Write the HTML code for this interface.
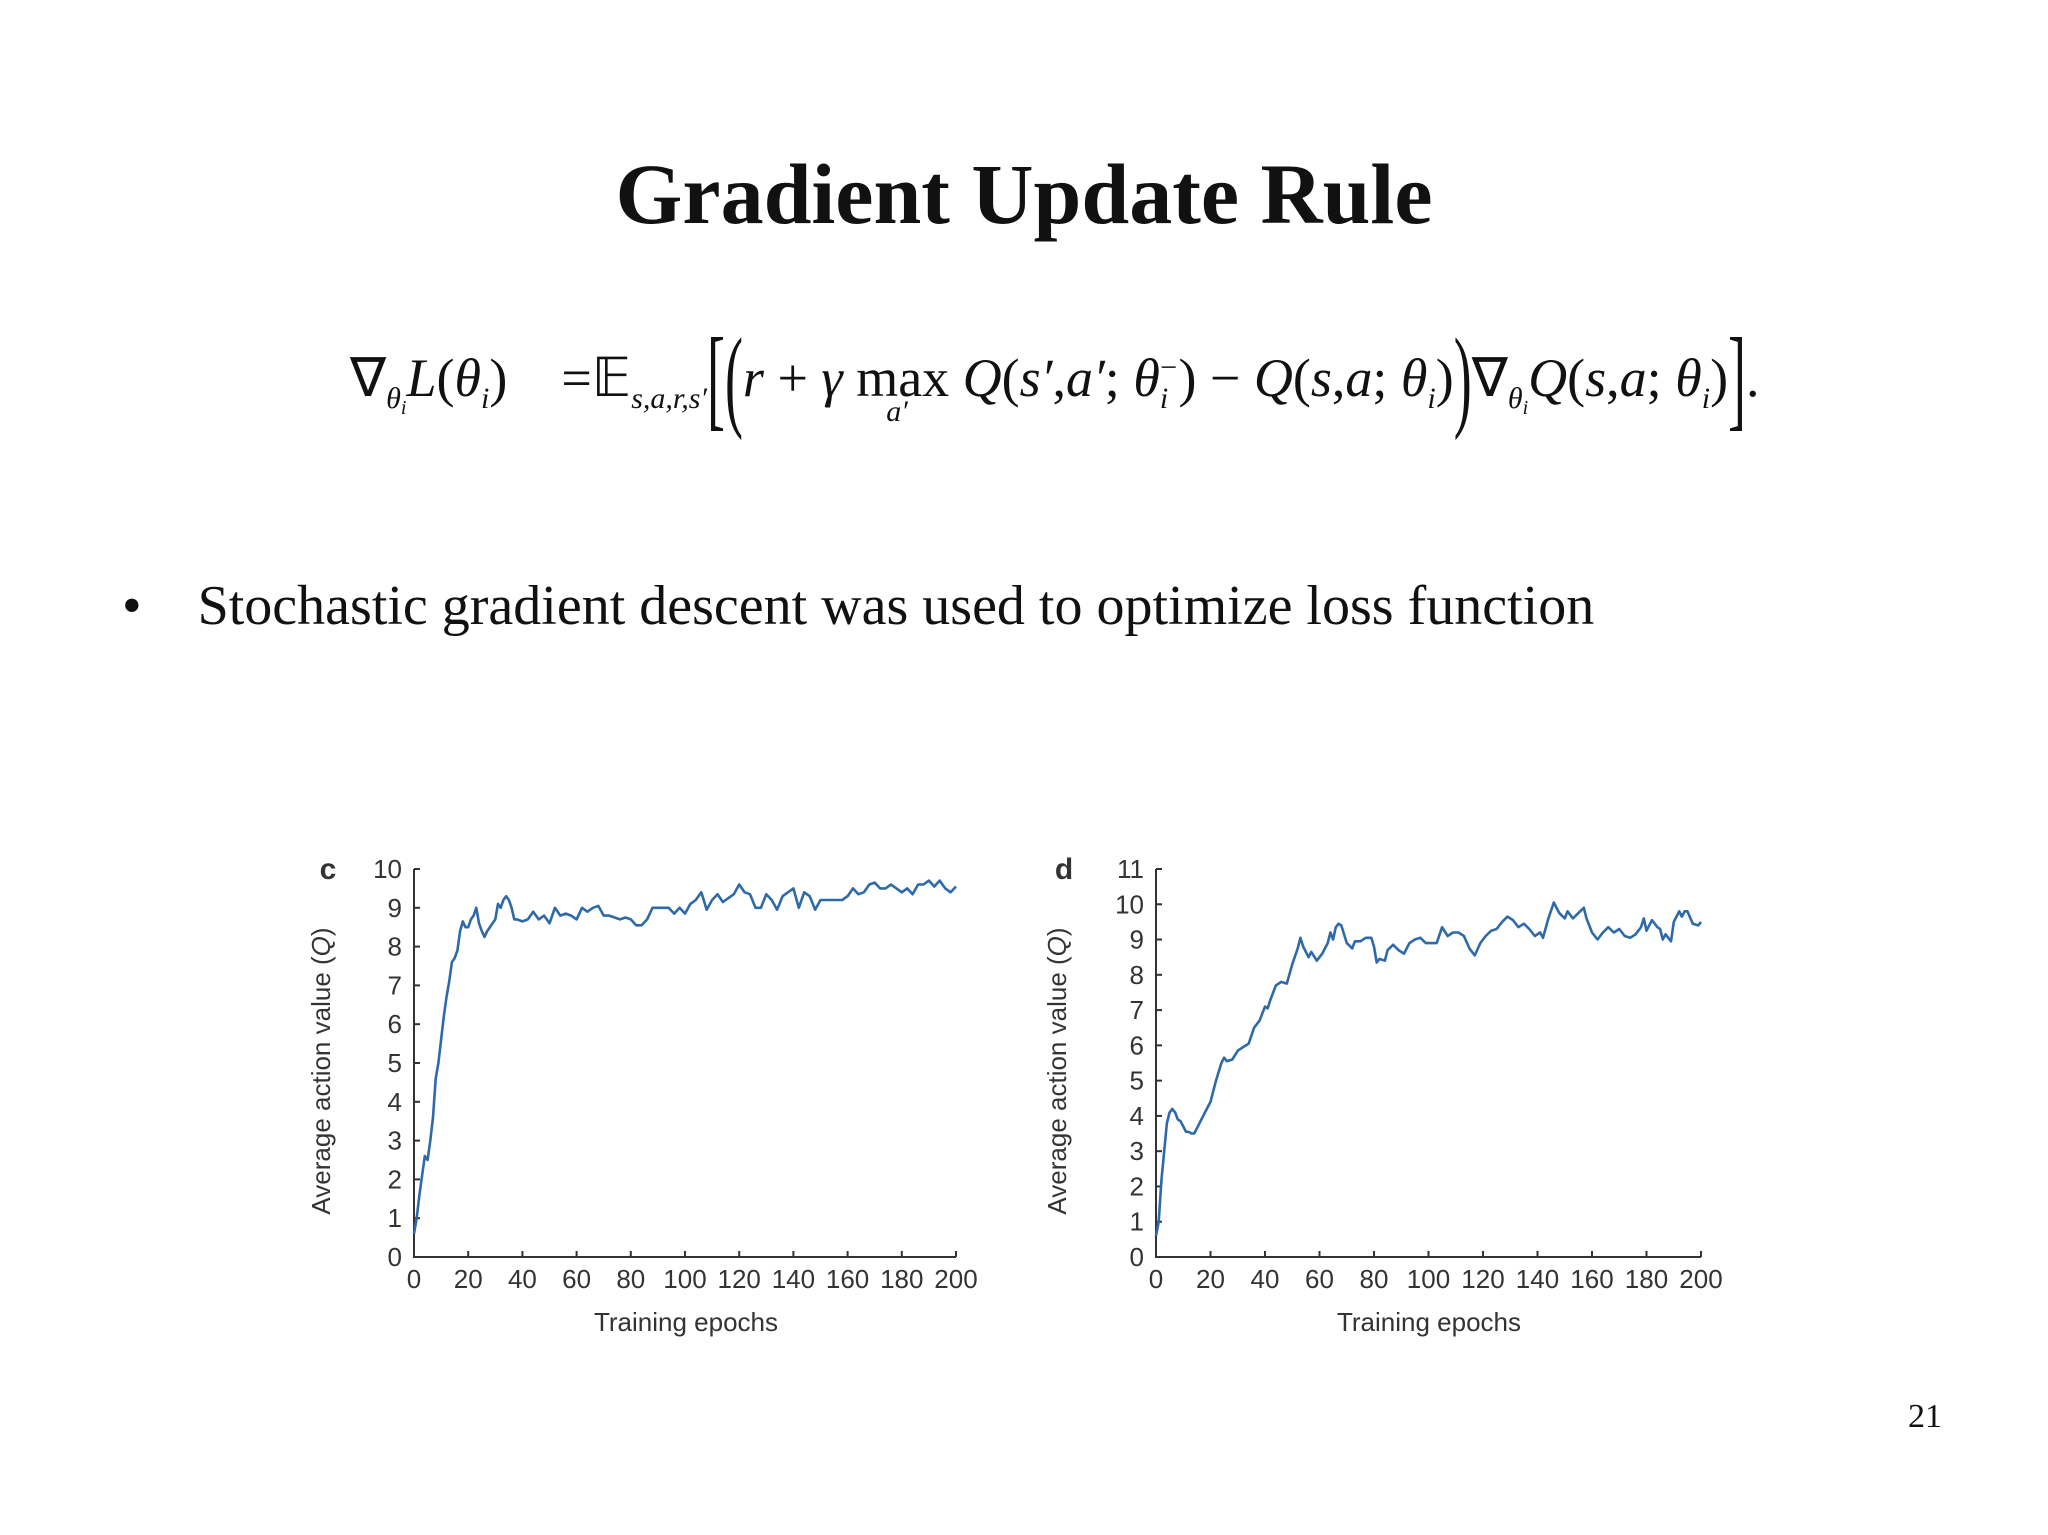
<!DOCTYPE html>
<html><head><meta charset="utf-8">
<style>
html,body{margin:0;padding:0;background:#fff;}
body{width:2048px;height:1535px;position:relative;overflow:hidden;font-family:"Liberation Serif",serif;color:#111;}
.abs{position:absolute;}
#title{left:0;width:2048px;top:144px;text-align:center;font-weight:bold;font-size:86px;}
#eq{left:350px;top:346px;font-size:54px;font-family:"Liberation Serif",serif;white-space:nowrap;color:#111;}
#eq i{font-style:italic}
#eq sub{font-size:30px;vertical-align:-12px;font-style:italic}
#eq sup{font-size:30px;font-style:italic}
.big{display:inline-block;transform:scaleY(2.1);font-weight:normal;}
#bullet{left:122px;top:574px;font-size:56px;}
#pnum{left:1908px;top:1398px;font-size:34px;}
svg text{font-family:"Liberation Sans",sans-serif;fill:#333;}
</style></head>
<body>
<div id="title" class="abs">Gradient Update Rule</div>
<div id="eq" class="abs">∇<sub>θ<sub style="font-size:20px;vertical-align:-6px">i</sub></sub><i>L</i>(<i>θ<sub>i</sub></i>) &nbsp;&nbsp; =𝔼<sub>s,a,r,s′</sub><span class="big">[</span><span class="big">(</span><i>r</i> + <i>γ</i> <span style="display:inline-block;position:relative">max<span style="position:absolute;left:30px;top:48px;font-size:30px;font-style:italic">a′</span></span> <i>Q</i>(<i>s′</i>,<i>a′</i>; <i>θ<sub>i</sub></i><sup style="margin-left:-10px">−</sup>) − <i>Q</i>(<i>s</i>,<i>a</i>; <i>θ<sub>i</sub></i>)<span class="big">)</span>∇<sub>θ<sub style="font-size:20px;vertical-align:-6px">i</sub></sub><i>Q</i>(<i>s</i>,<i>a</i>; <i>θ<sub>i</sub></i>)<span class="big">]</span>.</div>
<div id="bullet" class="abs">•&nbsp;&nbsp;&nbsp;&nbsp;Stochastic gradient descent was used to optimize loss function</div>
<div id="pnum" class="abs">21</div>
<svg id="charts" class="abs" style="left:0;top:0" width="2048" height="1535"></svg>
<script>
const cEpochs=[0,1,2,3,4,5,6,7,8,9,10,11,12,13,14,15,16,17,18,19,20,21,22,23,24,25,26,27,28,29,30,31,32,33,34,35,36,37,38,40,42,44,46,48,50,52,54,56,58,60,62,64,66,68,70,72,74,76,78,80,82,84,86,88,90,92,94,96,98,100,102,104,106,108,110,112,114,116,118,120,122,124,126,128,130,132,134,136,138,140,142,144,146,148,150,152,154,156,158,160,162,164,166,168,170,172,174,176,178,180,182,184,186,188,190,192,194,196,198,200];
const cValues=[0.6,1.0,1.6,2.1,2.6,2.5,3.0,3.6,4.6,5.0,5.6,6.2,6.7,7.1,7.6,7.7,7.9,8.4,8.65,8.5,8.5,8.7,8.8,9.0,8.6,8.4,8.25,8.4,8.5,8.6,8.7,9.1,9.0,9.2,9.3,9.2,9.0,8.7,8.7,8.65,8.7,8.9,8.7,8.8,8.6,9.0,8.8,8.85,8.8,8.7,9.0,8.9,9.0,9.05,8.8,8.8,8.75,8.7,8.75,8.7,8.55,8.55,8.7,9.0,9.0,9.0,9.0,8.85,9.0,8.85,9.1,9.2,9.4,8.95,9.2,9.35,9.15,9.25,9.35,9.6,9.4,9.35,9.0,9.0,9.35,9.2,8.95,9.3,9.4,9.5,9.0,9.4,9.3,8.95,9.2,9.2,9.2,9.2,9.2,9.3,9.5,9.35,9.4,9.6,9.65,9.5,9.5,9.6,9.5,9.4,9.5,9.35,9.6,9.6,9.7,9.55,9.7,9.5,9.4,9.55];
const dEpochs=[0,1,2,3,4,5,6,7,8,9,10,11,12,13,14,15,16,18,20,22,24,25,26,28,30,32,34,36,38,40,41,42,44,46,48,50,52,53,54,56,57,59,61,63,64,65,66,67,68,70,72,73,75,77,79,80,81,82,84,85,87,89,91,93,95,97,99,101,103,105,107,109,111,113,115,117,119,121,123,125,127,129,131,133,135,137,139,141,142,144,146,148,150,151,153,155,157,158,160,162,164,166,168,170,172,174,176,178,179,180,182,184,185,186,187,189,190,192,193,194,195,197,199,200];
const dValues=[0.6,1.0,2.2,3.0,3.8,4.1,4.2,4.1,3.9,3.85,3.7,3.55,3.55,3.5,3.5,3.65,3.8,4.1,4.4,5.0,5.5,5.65,5.55,5.6,5.85,5.95,6.05,6.5,6.7,7.1,7.05,7.3,7.7,7.8,7.75,8.3,8.75,9.05,8.8,8.5,8.65,8.4,8.6,8.9,9.2,9.0,9.35,9.45,9.4,8.9,8.75,8.95,8.95,9.05,9.05,8.8,8.35,8.45,8.4,8.7,8.85,8.7,8.6,8.9,9.0,9.05,8.9,8.9,8.9,9.35,9.1,9.2,9.2,9.1,8.75,8.55,8.9,9.1,9.25,9.3,9.5,9.65,9.55,9.35,9.45,9.3,9.1,9.2,9.05,9.6,10.05,9.75,9.6,9.8,9.6,9.75,9.9,9.6,9.2,9.0,9.2,9.35,9.2,9.3,9.1,9.05,9.15,9.35,9.6,9.25,9.55,9.35,9.3,9.0,9.15,8.95,9.5,9.8,9.65,9.8,9.8,9.45,9.4,9.5,9.7];
const xTicks=[0,20,40,60,80,100,120,140,160,180,200];
const cYTicks=[0,1,2,3,4,5,6,7,8,9,10];
const dYTicks=[0,1,2,3,4,5,6,7,8,9,10,11];

const NS='http://www.w3.org/2000/svg';
const svg=document.getElementById('charts');
function mk(tag,attrs,parent){const e=document.createElementNS(NS,tag);for(const k in attrs)e.setAttribute(k,attrs[k]);(parent||svg).appendChild(e);return e;}

function chart(id,letter,x0,x1,y0,yTop,yMax,yTicks,ex,vals,ylabelX,titleX){
  const g=mk('g',{});
  
  
  const X=v=>x0+(x1-x0)*v/200;
  const Y=v=>y0-(y0-yTop)*v/yMax;
  const ax=mk('path',{d:`M${x0},${yTop} V${y0} H${x1}`,stroke:'#333','stroke-width':2,fill:'none'},g);
  
  
  yTicks.forEach(t=>{
    mk('line',{x1:x0,x2:x0+6,y1:Y(t),y2:Y(t),stroke:'#333','stroke-width':2},g);
    const tx=mk('text',{x:x0-12,y:Y(t)+9,'text-anchor':'end','font-size':26},g);
    
    
    tx.textContent=t;
  });
  xTicks.forEach(t=>{
    mk('line',{x1:X(t),x2:X(t),y1:y0,y2:y0-6,stroke:'#333','stroke-width':2},g);
    const tx=mk('text',{x:X(t),y:y0+31,'text-anchor':'middle','font-size':26},g);
    
    
    tx.textContent=t;
  });
  let d='';
  ex.forEach((e,i)=>{d+=(i?'L':'M')+X(e).toFixed(1)+','+Y(vals[i]).toFixed(1);});
  const ln=mk('path',{d:d,stroke:'#2f6aa8','stroke-width':2.6,fill:'none','stroke-linejoin':'round'},g);
  
  
  const yl=mk('text',{x:0,y:0,'text-anchor':'middle','font-size':26,transform:`translate(${ylabelX},${(y0+yTop)/2+8}) rotate(-90)`},g);
  
  
  yl.innerHTML='Average action value (<tspan font-style="italic">Q</tspan>)';
  const xl=mk('text',{x:titleX,y:y0+74,'text-anchor':'middle','font-size':26},g);
  
  
  xl.textContent='Training epochs';
  const pl=mk('text',{x:ylabelX-2,y:yTop+10,'text-anchor':'middle','font-size':30,'font-weight':'bold',fill:'#222'},g);
  
  
  pl.textContent=letter;
}
chart('c','c',414,956,1257,869,10,cYTicks,cEpochs,cValues,330,686);
chart('d','d',1156,1701,1257,869,11,dYTicks,dEpochs,dValues,1066,1429);
</script>
</body></html>
